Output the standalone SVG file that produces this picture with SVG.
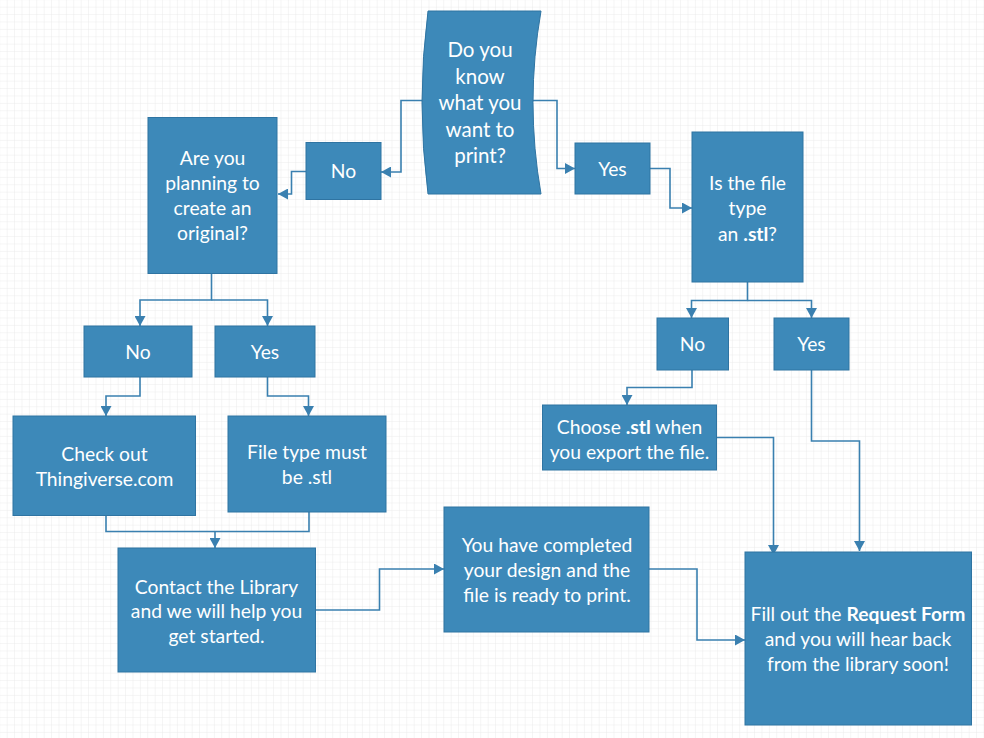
<svg xmlns="http://www.w3.org/2000/svg" width="984" height="738" viewBox="0 0 984 738">
<style>
.n{fill:#3d89b9;stroke:#2f74a2;stroke-width:1}
.t{font-family:Lato,"Liberation Sans",sans-serif;font-size:19.3px;fill:#ffffff;text-anchor:middle}
.tb{font-size:20.5px}
.b{font-weight:bold}
.c{fill:none;stroke:#3a80b0;stroke-width:1.6;marker-end:url(#ah)}
.l{fill:none;stroke:#3a80b0;stroke-width:1.6}
</style>
<defs>
<pattern id="grid" width="7.4" height="7.4" patternUnits="userSpaceOnUse" x="-0.7" y="-0.7">
<path d="M7.4,0 L0,0 L0,7.4" fill="none" stroke="#ebebeb" stroke-width="1"/>
</pattern>
<marker id="ah" markerUnits="userSpaceOnUse" markerWidth="11" markerHeight="11" refX="10" refY="5.5" orient="auto">
<path d="M0,0 L10,5.5 L0,11 Z" fill="#3a80b0"/>
</marker>
</defs>
<rect width="984" height="738" fill="#ffffff"/>
<rect width="984" height="738" fill="url(#grid)"/>

<g id="connectors">
<path class="c" d="M423,100.5 H401 V172 H381"/>
<path class="c" d="M306,171.5 H291.5 V194 H278"/>
<path class="c" d="M533,100.5 H557 V168.5 H575"/>
<path class="c" d="M650,168.5 H670 V208 H692"/>
<path class="c" d="M211.5,273 V300 H140 V326"/>
<path class="c" d="M211.5,300 H267.5 V326"/>
<path class="c" d="M140,377 V396 H106 V416"/>
<path class="c" d="M267.5,377 V396 H308.5 V416"/>
<path class="l" d="M106,515 V531.5 H309 V512"/>
<path class="c" d="M215,531.5 V548"/>
<path class="c" d="M315,610 H379.5 V569 H444"/>
<path class="c" d="M649,569 H697 V640 H745"/>
<path class="c" d="M747.5,282 V300.5 H691.5 V318"/>
<path class="c" d="M747.5,300.5 H811.5 V318"/>
<path class="c" d="M692,370 V387.5 H627 V405"/>
<path class="c" d="M716,437.5 H773.5 V555"/>
<path class="c" d="M811.5,370 V441 H859.5 V551"/>
</g>

<g id="q1">
<path class="n" d="M428,11 L541,11 Q525,102.5 541,194 L428,194 Q416,102.5 428,11 Z"/>
<text class="t tb" x="480" y="57">Do you</text>
<text class="t tb" x="480" y="83.5">know</text>
<text class="t tb" x="480" y="110">what you</text>
<text class="t tb" x="480" y="136.5">want to</text>
<text class="t tb" x="480" y="163">print?</text>
</g>

<g id="no1">
<rect class="n" x="306" y="142.5" width="75" height="57"/>
<text class="t" x="343.5" y="178">No</text>
</g>

<g id="yes1">
<rect class="n" x="575" y="143" width="75" height="51"/>
<text class="t" x="612.5" y="176">Yes</text>
</g>

<g id="q2">
<rect class="n" x="148" y="117.5" width="129" height="156"/>
<text class="t" x="212.5" y="165">Are you</text>
<text class="t" x="212.5" y="190">planning to</text>
<text class="t" x="212.5" y="215">create an</text>
<text class="t" x="212.5" y="240">original?</text>
</g>

<g id="q3">
<rect class="n" x="692" y="132" width="111" height="150"/>
<text class="t" x="747.5" y="190">Is the file</text>
<text class="t" x="747.5" y="215">type</text>
<text class="t" x="747.5" y="241">an <tspan class="b">.stl</tspan>?</text>
</g>

<g id="no2">
<rect class="n" x="84" y="326" width="108" height="51"/>
<text class="t" x="138" y="358.5">No</text>
</g>

<g id="yes2">
<rect class="n" x="215" y="326" width="100" height="51"/>
<text class="t" x="265" y="358.5">Yes</text>
</g>

<g id="no3">
<rect class="n" x="657" y="318" width="71.5" height="52"/>
<text class="t" x="692.5" y="351">No</text>
</g>

<g id="yes3">
<rect class="n" x="774" y="318" width="75" height="52"/>
<text class="t" x="811.5" y="351">Yes</text>
</g>

<g id="thingiverse">
<rect class="n" x="13" y="416" width="182.5" height="99.5"/>
<text class="t" x="104.5" y="461">Check out</text>
<text class="t" x="104.5" y="486">Thingiverse.com</text>
</g>

<g id="stlmust">
<rect class="n" x="228" y="416" width="158" height="96"/>
<text class="t" x="307" y="459">File type must</text>
<text class="t" x="307" y="484">be .stl</text>
</g>

<g id="choose">
<rect class="n" x="542.5" y="405" width="174" height="65"/>
<text class="t" x="629.5" y="434">Choose <tspan class="b">.stl</tspan> when</text>
<text class="t" x="629.5" y="459">you export the file.</text>
</g>

<g id="contact">
<rect class="n" x="118" y="548" width="197.5" height="124"/>
<text class="t" x="216.5" y="594">Contact the Library</text>
<text class="t" x="216.5" y="618">and we will help you</text>
<text class="t" x="216.5" y="643">get started.</text>
</g>

<g id="completed">
<rect class="n" x="444" y="507" width="205" height="125"/>
<text class="t" x="547" y="552">You have completed</text>
<text class="t" x="547" y="577">your design and the</text>
<text class="t" x="547" y="602">file is ready to print.</text>
</g>

<g id="request">
<rect class="n" x="745" y="552" width="226.5" height="173"/>
<text class="t" x="858" y="621">Fill out the <tspan class="b">Request Form</tspan></text>
<text class="t" x="858" y="646">and you will hear back</text>
<text class="t" x="858" y="671">from the library soon!</text>
</g>
</svg>
